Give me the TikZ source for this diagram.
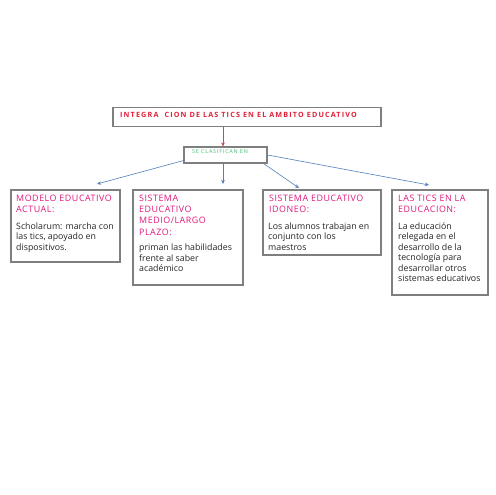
\documentclass[tikz,border=0pt]{standalone}
\usepackage{fontspec}
\setmainfont{Open Sans}
\usetikzlibrary{arrows.meta,calc}
\definecolor{ttlred}{HTML}{E0203A}
\definecolor{hdrpink}{HTML}{E0197D}
\definecolor{clsgreen}{HTML}{3DBE6E}
\definecolor{bodytxt}{HTML}{262626}
\definecolor{boxgray}{HTML}{7F7F7F}
\definecolor{linkblue}{HTML}{4F81BD}
\definecolor{arrred}{HTML}{C0504D}
\begin{document}
\begin{tikzpicture}[x=1pt,y=-1pt,
  framebox/.style={draw=boxgray,line width=1.1pt,rectangle,inner sep=0pt},
  hdr/.style={anchor=north west,align=left,inner sep=0pt,text=hdrpink,
    font=\fontsize{8.9}{11.3}\selectfont\addfontfeatures{LetterSpace=6}},
  bodytext/.style={anchor=north west,align=left,inner sep=0pt,text=bodytxt,
    font=\fontsize{8.8}{10.4}\selectfont},
  link/.style={draw=linkblue,line width=0.6pt,-{Stealth[length=4pt,width=3.5pt,inset=1pt]}},
  redlink/.style={draw=arrred,line width=0.6pt,-{Stealth[length=4pt,width=3.5pt,inset=1pt]}}]
\useasboundingbox[fill=white] (0,0) rectangle (495,495);
% title
\node[framebox,minimum width=268pt,minimum height=19pt] (top) at (247,117) {};
\node[anchor=west,inner sep=0pt,text=ttlred,font=\fontsize{7.2}{8}\selectfont\bfseries\addfontfeatures{LetterSpace=16}] (toptxt) at (120,114.5) {INTEGRA\ \ CION DE LAS TICS EN EL AMBITO EDUCATIVO};
% middle
\node[framebox,minimum width=83pt,minimum height=16pt] (mid) at (225.5,155) {};
\node[anchor=west,inner sep=0pt,text=clsgreen,font=\fontsize{5.4}{6}\selectfont\addfontfeatures{LetterSpace=15}] (midtxt) at (192,152) {SE CLASIFICAN EN};
\draw[redlink] (top.south -| 223,0) -- (mid.north -| 223,0);
% boxes
\node[framebox,minimum width=109pt,minimum height=72pt] (b1) at (65.5,226) {};
\node[framebox,minimum width=110pt,minimum height=95pt] (b2) at (188,237.5) {};
\node[framebox,minimum width=118pt,minimum height=65pt] (b3) at (322,222.5) {};
\node[framebox,minimum width=96pt,minimum height=105pt] (b4) at (440,242.5) {};
% texts
\node[hdr] (h1) at (16,194.5) {MODELO EDUCATIVO\\ACTUAL:};
\node[bodytext] (t1) at (16,222.6) {Scholarum: marcha con\\las tics, apoyado en\\dispositivos.};
\node[hdr] (h2) at (139,194.5) {SISTEMA\\EDUCATIVO\\MEDIO/LARGO\\PLAZO:};
\node[bodytext] (t2) at (139,244) {priman las habilidades\\frente al saber\\académico};
\node[hdr] (h3) at (269,194.5) {SISTEMA EDUCATIVO\\IDONEO:};
\node[bodytext] (t3) at (268,222.6) {Los alumnos trabajan en\\conjunto con los\\maestros};
\node[hdr] (h4) at (398,194.5) {LAS TICS EN LA\\EDUCACION:};
\node[bodytext] (t4) at (398,222.6) {La educación\\relegada en el\\desarrollo de la\\tecnología para\\desarrollar otros\\sistemas educativos};
% connectors
\coordinate (e1) at (97,184);
\coordinate (e2) at (223,184);
\coordinate (e3) at (299,188);
\coordinate (e4) at (429,185);
\draw[link] ($(mid.south west)+(0,-3)$) -- (e1);
\draw[link] (mid.south -| e2) -- (e2);
\draw[link] ($(mid.south east)+(-4,0)$) -- (e3);
\draw[link] (mid.east) -- (e4);
\end{tikzpicture}
\end{document}
